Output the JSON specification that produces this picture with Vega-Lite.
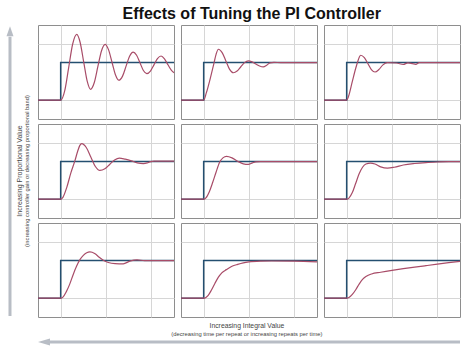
{
  "$schema": "https://vega.github.io/schema/vega-lite/v6.json",
  "padding": {"left": 0, "top": 5, "right": 0, "bottom": 0},
  "title": {"text": "Effects of Tuning the PI Controller", "fontSize": 16, "fontWeight": "bold", "font": "Liberation Sans", "color": "#111111", "anchor": "middle", "dx": 20, "offset": 3},
  "config": {
    "view": {"stroke": "#8e8e8e", "strokeWidth": 1},
    "font": "Liberation Sans",
    "axis": {"gridColor": "#d6d6d6", "gridWidth": 1, "gridOpacity": 1, "minExtent": 0, "maxExtent": 0, "offset": 0, "labelPadding": 0, "tickSize": 0}
  },
  "datasets": {
    "one": [{"k": 0}],
    "curves": [
      {"r":1,"c":1,"s":"sp","x":0,"y":1},{"r":1,"c":1,"s":"sp","x":1,"y":3},{"r":1,"c":1,"s":"sp","x":6,"y":3},
      {"r":1,"c":2,"s":"sp","x":0,"y":1},{"r":1,"c":2,"s":"sp","x":1,"y":3},{"r":1,"c":2,"s":"sp","x":6,"y":3},
      {"r":1,"c":3,"s":"sp","x":0,"y":1},{"r":1,"c":3,"s":"sp","x":1,"y":3},{"r":1,"c":3,"s":"sp","x":6,"y":3},
      {"r":2,"c":1,"s":"sp","x":0,"y":1},{"r":2,"c":1,"s":"sp","x":1,"y":3},{"r":2,"c":1,"s":"sp","x":6,"y":3},
      {"r":2,"c":2,"s":"sp","x":0,"y":1},{"r":2,"c":2,"s":"sp","x":1,"y":3},{"r":2,"c":2,"s":"sp","x":6,"y":3},
      {"r":2,"c":3,"s":"sp","x":0,"y":1},{"r":2,"c":3,"s":"sp","x":1,"y":3},{"r":2,"c":3,"s":"sp","x":6,"y":3},
      {"r":3,"c":1,"s":"sp","x":0,"y":1},{"r":3,"c":1,"s":"sp","x":1,"y":3},{"r":3,"c":1,"s":"sp","x":6,"y":3},
      {"r":3,"c":2,"s":"sp","x":0,"y":1},{"r":3,"c":2,"s":"sp","x":1,"y":3},{"r":3,"c":2,"s":"sp","x":6,"y":3},
      {"r":3,"c":3,"s":"sp","x":0,"y":1},{"r":3,"c":3,"s":"sp","x":1,"y":3},{"r":3,"c":3,"s":"sp","x":6,"y":3},

      {"r":1,"c":1,"s":"pv","x":0,"y":1},{"r":1,"c":1,"s":"pv","x":1,"y":1},{"r":1,"c":1,"s":"pv","x":1.18,"y":1.51},{"r":1,"c":1,"s":"pv","x":1.355,"y":2.75},{"r":1,"c":1,"s":"pv","x":1.53,"y":3.99},{"r":1,"c":1,"s":"pv","x":1.71,"y":4.5},{"r":1,"c":1,"s":"pv","x":1.86,"y":4.07},{"r":1,"c":1,"s":"pv","x":2.015,"y":3.04},{"r":1,"c":1,"s":"pv","x":2.17,"y":2.01},{"r":1,"c":1,"s":"pv","x":2.32,"y":1.58},{"r":1,"c":1,"s":"pv","x":2.48,"y":1.93},{"r":1,"c":1,"s":"pv","x":2.64,"y":2.78},{"r":1,"c":1,"s":"pv","x":2.8,"y":3.62},{"r":1,"c":1,"s":"pv","x":2.96,"y":3.97},{"r":1,"c":1,"s":"pv","x":3.11,"y":3.69},{"r":1,"c":1,"s":"pv","x":3.265,"y":3.02},{"r":1,"c":1,"s":"pv","x":3.42,"y":2.34},{"r":1,"c":1,"s":"pv","x":3.57,"y":2.06},{"r":1,"c":1,"s":"pv","x":3.73,"y":2.28},{"r":1,"c":1,"s":"pv","x":3.885,"y":2.81},{"r":1,"c":1,"s":"pv","x":4.04,"y":3.34},{"r":1,"c":1,"s":"pv","x":4.2,"y":3.56},{"r":1,"c":1,"s":"pv","x":4.35,"y":3.39},{"r":1,"c":1,"s":"pv","x":4.5,"y":2.99},{"r":1,"c":1,"s":"pv","x":4.65,"y":2.58},{"r":1,"c":1,"s":"pv","x":4.8,"y":2.41},{"r":1,"c":1,"s":"pv","x":4.96,"y":2.55},{"r":1,"c":1,"s":"pv","x":5.115,"y":2.88},{"r":1,"c":1,"s":"pv","x":5.27,"y":3.21},{"r":1,"c":1,"s":"pv","x":5.43,"y":3.35},{"r":1,"c":1,"s":"pv","x":5.58,"y":3.2},{"r":1,"c":1,"s":"pv","x":5.74,"y":2.87},{"r":1,"c":1,"s":"pv","x":5.88,"y":2.6},{"r":1,"c":1,"s":"pv","x":6,"y":2.46},

      {"r":1,"c":2,"s":"pv","x":0,"y":1},{"r":1,"c":2,"s":"pv","x":1,"y":1},{"r":1,"c":2,"s":"pv","x":1.12,"y":1.4},{"r":1,"c":2,"s":"pv","x":1.3,"y":2.2},{"r":1,"c":2,"s":"pv","x":1.45,"y":2.95},{"r":1,"c":2,"s":"pv","x":1.55,"y":3.45},{"r":1,"c":2,"s":"pv","x":1.65,"y":3.71},{"r":1,"c":2,"s":"pv","x":1.815,"y":3.53},{"r":1,"c":2,"s":"pv","x":1.98,"y":3.09},{"r":1,"c":2,"s":"pv","x":2.145,"y":2.64},{"r":1,"c":2,"s":"pv","x":2.31,"y":2.46},{"r":1,"c":2,"s":"pv","x":2.475,"y":2.55},{"r":1,"c":2,"s":"pv","x":2.64,"y":2.78},{"r":1,"c":2,"s":"pv","x":2.805,"y":3.0},{"r":1,"c":2,"s":"pv","x":2.97,"y":3.09},{"r":1,"c":2,"s":"pv","x":3.135,"y":3.04},{"r":1,"c":2,"s":"pv","x":3.3,"y":2.93},{"r":1,"c":2,"s":"pv","x":3.465,"y":2.82},{"r":1,"c":2,"s":"pv","x":3.63,"y":2.77},{"r":1,"c":2,"s":"pv","x":3.78,"y":2.86},{"r":1,"c":2,"s":"pv","x":3.93,"y":2.99},{"r":1,"c":2,"s":"pv","x":4.1,"y":3.01},{"r":1,"c":2,"s":"pv","x":4.4,"y":3.0},{"r":1,"c":2,"s":"pv","x":6,"y":3.0},

      {"r":1,"c":3,"s":"pv","x":0,"y":1},{"r":1,"c":3,"s":"pv","x":1,"y":1},{"r":1,"c":3,"s":"pv","x":1.08,"y":1.2},{"r":1,"c":3,"s":"pv","x":1.25,"y":2.0},{"r":1,"c":3,"s":"pv","x":1.4,"y":2.7},{"r":1,"c":3,"s":"pv","x":1.5,"y":3.1},{"r":1,"c":3,"s":"pv","x":1.56,"y":3.3},{"r":1,"c":3,"s":"pv","x":1.62,"y":3.39},{"r":1,"c":3,"s":"pv","x":1.78,"y":3.26},{"r":1,"c":3,"s":"pv","x":1.935,"y":2.95},{"r":1,"c":3,"s":"pv","x":2.09,"y":2.63},{"r":1,"c":3,"s":"pv","x":2.25,"y":2.5},{"r":1,"c":3,"s":"pv","x":2.42,"y":2.63},{"r":1,"c":3,"s":"pv","x":2.6,"y":2.88},{"r":1,"c":3,"s":"pv","x":2.8,"y":3.0},{"r":1,"c":3,"s":"pv","x":3.2,"y":2.98},{"r":1,"c":3,"s":"pv","x":3.5,"y":2.9},{"r":1,"c":3,"s":"pv","x":3.7,"y":2.99},{"r":1,"c":3,"s":"pv","x":3.9,"y":2.95},{"r":1,"c":3,"s":"pv","x":4.05,"y":2.91},{"r":1,"c":3,"s":"pv","x":4.2,"y":3.0},{"r":1,"c":3,"s":"pv","x":6,"y":3.0},

      {"r":2,"c":1,"s":"pv","x":0,"y":1},{"r":2,"c":1,"s":"pv","x":1,"y":1},{"r":2,"c":1,"s":"pv","x":1.1,"y":1.1},{"r":2,"c":1,"s":"pv","x":1.27,"y":1.63},{"r":2,"c":1,"s":"pv","x":1.45,"y":2.4},{"r":2,"c":1,"s":"pv","x":1.63,"y":3.05},{"r":2,"c":1,"s":"pv","x":1.75,"y":3.55},{"r":2,"c":1,"s":"pv","x":1.84,"y":3.85},{"r":2,"c":1,"s":"pv","x":1.93,"y":3.96},{"r":2,"c":1,"s":"pv","x":2.13,"y":3.75},{"r":2,"c":1,"s":"pv","x":2.33,"y":3.25},{"r":2,"c":1,"s":"pv","x":2.53,"y":2.74},{"r":2,"c":1,"s":"pv","x":2.73,"y":2.53},{"r":2,"c":1,"s":"pv","x":2.95,"y":2.62},{"r":2,"c":1,"s":"pv","x":3.17,"y":2.86},{"r":2,"c":1,"s":"pv","x":3.38,"y":3.09},{"r":2,"c":1,"s":"pv","x":3.59,"y":3.19},{"r":2,"c":1,"s":"pv","x":3.85,"y":3.13},{"r":2,"c":1,"s":"pv","x":4.12,"y":3.04},{"r":2,"c":1,"s":"pv","x":4.38,"y":2.93},{"r":2,"c":1,"s":"pv","x":4.65,"y":2.89},{"r":2,"c":1,"s":"pv","x":4.82,"y":2.93},{"r":2,"c":1,"s":"pv","x":4.97,"y":3.0},{"r":2,"c":1,"s":"pv","x":5.12,"y":3.03},{"r":2,"c":1,"s":"pv","x":5.5,"y":3.02},{"r":2,"c":1,"s":"pv","x":6,"y":3.02},

      {"r":2,"c":2,"s":"pv","x":0,"y":1},{"r":2,"c":2,"s":"pv","x":1,"y":1},{"r":2,"c":2,"s":"pv","x":1.1,"y":1.07},{"r":2,"c":2,"s":"pv","x":1.25,"y":1.4},{"r":2,"c":2,"s":"pv","x":1.4,"y":1.9},{"r":2,"c":2,"s":"pv","x":1.55,"y":2.45},{"r":2,"c":2,"s":"pv","x":1.7,"y":2.95},{"r":2,"c":2,"s":"pv","x":1.85,"y":3.2},{"r":2,"c":2,"s":"pv","x":2.01,"y":3.28},{"r":2,"c":2,"s":"pv","x":2.25,"y":3.2},{"r":2,"c":2,"s":"pv","x":2.5,"y":3.02},{"r":2,"c":2,"s":"pv","x":2.75,"y":2.88},{"r":2,"c":2,"s":"pv","x":2.97,"y":2.85},{"r":2,"c":2,"s":"pv","x":3.15,"y":2.93},{"r":2,"c":2,"s":"pv","x":3.3,"y":2.99},{"r":2,"c":2,"s":"pv","x":3.5,"y":3.0},{"r":2,"c":2,"s":"pv","x":6,"y":3.0},

      {"r":2,"c":3,"s":"pv","x":0,"y":1},{"r":2,"c":3,"s":"pv","x":1,"y":1},{"r":2,"c":3,"s":"pv","x":1.1,"y":1.06},{"r":2,"c":3,"s":"pv","x":1.25,"y":1.35},{"r":2,"c":3,"s":"pv","x":1.4,"y":1.85},{"r":2,"c":3,"s":"pv","x":1.55,"y":2.35},{"r":2,"c":3,"s":"pv","x":1.7,"y":2.7},{"r":2,"c":3,"s":"pv","x":1.85,"y":2.87},{"r":2,"c":3,"s":"pv","x":2.05,"y":2.92},{"r":2,"c":3,"s":"pv","x":2.25,"y":2.87},{"r":2,"c":3,"s":"pv","x":2.5,"y":2.72},{"r":2,"c":3,"s":"pv","x":2.8,"y":2.65},{"r":2,"c":3,"s":"pv","x":3.1,"y":2.7},{"r":2,"c":3,"s":"pv","x":3.5,"y":2.82},{"r":2,"c":3,"s":"pv","x":4.0,"y":2.9},{"r":2,"c":3,"s":"pv","x":4.5,"y":2.95},{"r":2,"c":3,"s":"pv","x":5.0,"y":2.98},{"r":2,"c":3,"s":"pv","x":5.5,"y":3.0},{"r":2,"c":3,"s":"pv","x":6,"y":3.0},

      {"r":3,"c":1,"s":"pv","x":0,"y":1},{"r":3,"c":1,"s":"pv","x":1,"y":1},{"r":3,"c":1,"s":"pv","x":1.1,"y":1.06},{"r":3,"c":1,"s":"pv","x":1.25,"y":1.35},{"r":3,"c":1,"s":"pv","x":1.4,"y":1.75},{"r":3,"c":1,"s":"pv","x":1.55,"y":2.25},{"r":3,"c":1,"s":"pv","x":1.7,"y":2.7},{"r":3,"c":1,"s":"pv","x":1.85,"y":3.05},{"r":3,"c":1,"s":"pv","x":2.0,"y":3.28},{"r":3,"c":1,"s":"pv","x":2.15,"y":3.42},{"r":3,"c":1,"s":"pv","x":2.29,"y":3.46},{"r":3,"c":1,"s":"pv","x":2.5,"y":3.38},{"r":3,"c":1,"s":"pv","x":2.7,"y":3.18},{"r":3,"c":1,"s":"pv","x":2.9,"y":3.0},{"r":3,"c":1,"s":"pv","x":3.1,"y":2.9},{"r":3,"c":1,"s":"pv","x":3.4,"y":2.84},{"r":3,"c":1,"s":"pv","x":3.76,"y":2.83},{"r":3,"c":1,"s":"pv","x":4.05,"y":2.97},{"r":3,"c":1,"s":"pv","x":4.37,"y":3.04},{"r":3,"c":1,"s":"pv","x":4.7,"y":3.0},{"r":3,"c":1,"s":"pv","x":6,"y":3.0},

      {"r":3,"c":2,"s":"pv","x":0,"y":1},{"r":3,"c":2,"s":"pv","x":1,"y":1},{"r":3,"c":2,"s":"pv","x":1.1,"y":1.04},{"r":3,"c":2,"s":"pv","x":1.2,"y":1.15},{"r":3,"c":2,"s":"pv","x":1.35,"y":1.45},{"r":3,"c":2,"s":"pv","x":1.5,"y":1.8},{"r":3,"c":2,"s":"pv","x":1.65,"y":2.12},{"r":3,"c":2,"s":"pv","x":1.8,"y":2.35},{"r":3,"c":2,"s":"pv","x":2.0,"y":2.52},{"r":3,"c":2,"s":"pv","x":2.25,"y":2.7},{"r":3,"c":2,"s":"pv","x":2.5,"y":2.8},{"r":3,"c":2,"s":"pv","x":2.75,"y":2.88},{"r":3,"c":2,"s":"pv","x":3.0,"y":2.93},{"r":3,"c":2,"s":"pv","x":3.5,"y":2.97},{"r":3,"c":2,"s":"pv","x":4.0,"y":2.98},{"r":3,"c":2,"s":"pv","x":5.0,"y":2.97},{"r":3,"c":2,"s":"pv","x":6,"y":2.93},

      {"r":3,"c":3,"s":"pv","x":0,"y":1},{"r":3,"c":3,"s":"pv","x":1,"y":1},{"r":3,"c":3,"s":"pv","x":1.1,"y":1.04},{"r":3,"c":3,"s":"pv","x":1.25,"y":1.2},{"r":3,"c":3,"s":"pv","x":1.4,"y":1.45},{"r":3,"c":3,"s":"pv","x":1.55,"y":1.75},{"r":3,"c":3,"s":"pv","x":1.7,"y":2.0},{"r":3,"c":3,"s":"pv","x":1.85,"y":2.15},{"r":3,"c":3,"s":"pv","x":2.1,"y":2.29},{"r":3,"c":3,"s":"pv","x":2.5,"y":2.38},{"r":3,"c":3,"s":"pv","x":3.0,"y":2.48},{"r":3,"c":3,"s":"pv","x":3.5,"y":2.57},{"r":3,"c":3,"s":"pv","x":4.0,"y":2.65},{"r":3,"c":3,"s":"pv","x":4.5,"y":2.73},{"r":3,"c":3,"s":"pv","x":5.0,"y":2.81},{"r":3,"c":3,"s":"pv","x":5.5,"y":2.89},{"r":3,"c":3,"s":"pv","x":6,"y":2.96}
    ]
  },
  "spacing": 8,
  "bounds": "flush",
  "hconcat": [
    {
      "width": 30,
      "height": 292,
      "view": {"stroke": null},
      "data": {"name": "one"},
      "layer": [
        {
          "mark": {"type": "rule", "color": "#b8bdc5", "strokeWidth": 3},
          "encoding": {
            "x": {"datum": 0.333, "type": "quantitative", "scale": {"domain": [0, 1]}, "axis": null},
            "y": {"datum": 0.003, "type": "quantitative", "scale": {"domain": [0, 1]}, "axis": null},
            "y2": {"datum": 0.96}
          }
        },
        {
          "mark": {"type": "point", "shape": "M-0.7,1L0.7,1L0,-1Z", "size": 100, "filled": true, "color": "#b8bdc5", "opacity": 1},
          "encoding": {
            "x": {"datum": 0.333, "type": "quantitative", "scale": {"domain": [0, 1]}, "axis": null},
            "y": {"datum": 0.979, "type": "quantitative", "scale": {"domain": [0, 1]}, "axis": null}
          }
        },
        {
          "mark": {"type": "text", "text": "Increasing Proportional Value", "angle": 270, "fontSize": 7, "color": "#444444", "align": "center", "baseline": "middle", "font": "Liberation Sans"},
          "encoding": {
            "x": {"datum": 0.667, "type": "quantitative", "scale": {"domain": [0, 1]}, "axis": null},
            "y": {"datum": 0.5, "type": "quantitative", "scale": {"domain": [0, 1]}, "axis": null}
          }
        },
        {
          "mark": {"type": "text", "text": "(increasing controller gain or decreasing proportional band)", "angle": 270, "fontSize": 5.8, "color": "#444444", "align": "center", "baseline": "middle", "font": "Liberation Sans"},
          "encoding": {
            "x": {"datum": 0.9, "type": "quantitative", "scale": {"domain": [0, 1]}, "axis": null},
            "y": {"datum": 0.5, "type": "quantitative", "scale": {"domain": [0, 1]}, "axis": null}
          }
        }
      ]
    },
    {
      "spacing": 0,
      "vconcat": [
        {
          "data": {"name": "curves"},
          "bounds": "flush",
          "facet": {
            "row": {"field": "r", "type": "ordinal", "header": null},
            "column": {"field": "c", "type": "ordinal", "header": null}
          },
          "spacing": {"row": 5, "column": 7},
          "spec": {
            "width": 136,
            "height": 94,
            "layer": [
              {
                "transform": [{"filter": "datum.s == 'sp'"}],
                "mark": {"type": "line", "interpolate": "step-after", "color": "#244f70", "strokeWidth": 1.5},
                "encoding": {
                  "x": {"field": "x", "type": "quantitative", "scale": {"domain": [0, 6], "nice": false, "zero": false}, "axis": {"values": [1, 2, 3, 4, 5], "labels": false, "ticks": false, "domain": false, "title": null, "grid": true}},
                  "y": {"field": "y", "type": "quantitative", "scale": {"domain": [0, 5], "nice": false, "zero": false}, "axis": {"values": [1, 2, 3, 4], "labels": false, "ticks": false, "domain": false, "title": null, "grid": true}}
                }
              },
              {
                "transform": [{"filter": "datum.s == 'pv'"}],
                "mark": {"type": "line", "interpolate": "monotone", "color": "#a84c68", "strokeWidth": 1.2},
                "encoding": {
                  "x": {"field": "x", "type": "quantitative"},
                  "y": {"field": "y", "type": "quantitative"}
                }
              }
            ]
          }
        },
        {
          "width": 422,
          "height": 37,
          "view": {"stroke": null},
          "data": {"name": "one"},
          "layer": [
            {
              "mark": {"type": "text", "text": "Increasing Integral Value", "fontSize": 6.8, "color": "#444444", "align": "center", "baseline": "alphabetic", "font": "Liberation Sans"},
              "encoding": {
                "x": {"datum": 0.495, "type": "quantitative", "scale": {"domain": [0, 1]}, "axis": null},
                "y": {"datum": 0.28, "type": "quantitative", "scale": {"domain": [0, 1], "reverse": true}, "axis": null}
              }
            },
            {
              "mark": {"type": "text", "text": "(decreasing time per repeat or increasing repeats per time)", "fontSize": 5.8, "color": "#444444", "align": "center", "baseline": "alphabetic", "font": "Liberation Sans"},
              "encoding": {
                "x": {"datum": 0.495, "type": "quantitative", "scale": {"domain": [0, 1]}, "axis": null},
                "y": {"datum": 0.478, "type": "quantitative", "scale": {"domain": [0, 1], "reverse": true}, "axis": null}
              }
            },
            {
              "mark": {"type": "rule", "color": "#b8bdc5", "strokeWidth": 3},
              "encoding": {
                "x": {"datum": 0.024, "type": "quantitative", "scale": {"domain": [0, 1]}, "axis": null},
                "x2": {"datum": 1},
                "y": {"datum": 0.649, "type": "quantitative", "scale": {"domain": [0, 1], "reverse": true}, "axis": null}
              }
            },
            {
              "mark": {"type": "point", "shape": "M1,-0.6L1,0.6L-1,0Z", "size": 144, "filled": true, "color": "#b8bdc5", "opacity": 1},
              "encoding": {
                "x": {"datum": 0.0142, "type": "quantitative", "scale": {"domain": [0, 1]}, "axis": null},
                "y": {"datum": 0.649, "type": "quantitative", "scale": {"domain": [0, 1], "reverse": true}, "axis": null}
              }
            }
          ]
        }
      ]
    }
  ]
}
